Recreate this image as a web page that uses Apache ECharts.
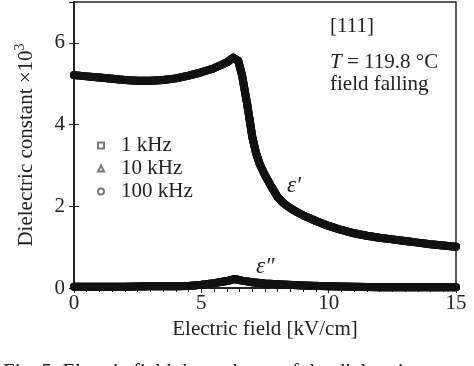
<!DOCTYPE html>
<html><head><meta charset="utf-8">
<script src="https://cdn.jsdelivr.net/npm/echarts@6/dist/echarts.min.js"></script>
<style>html,body{margin:0;padding:0;background:#fff}#c{width:474px;height:366px}</style>
</head><body><div id="c"></div>
<script>
// Electric field [kV/cm] for the real part curve
const fieldReal = [0, 0.5, 1, 1.5, 2, 2.5, 3, 3.5, 4, 4.5, 5, 5.5, 6, 6.25, 6.45, 6.6, 6.7, 6.8, 6.9, 7.0, 7.15, 7.3, 7.5, 7.75, 8, 8.25, 8.5, 8.75, 9, 9.5, 10, 10.5, 11, 11.5, 12, 12.5, 13, 13.5, 14, 14.5, 15];
// epsilon' (x10^3)
const epsReal = [5.21, 5.18, 5.15, 5.12, 5.09, 5.07, 5.07, 5.09, 5.13, 5.2, 5.28, 5.38, 5.52, 5.64, 5.56, 5.2, 4.85, 4.5, 4.1, 3.7, 3.3, 3.02, 2.76, 2.48, 2.22, 2.06, 1.95, 1.86, 1.78, 1.64, 1.52, 1.42, 1.34, 1.28, 1.23, 1.19, 1.15, 1.11, 1.07, 1.04, 1.01];
// Electric field for the imaginary part curve
const fieldImag = [0, 1, 2, 3, 4, 4.5, 5, 5.5, 6, 6.3, 6.6, 7, 7.5, 8, 9, 10, 11, 12, 13, 14, 15];
// epsilon'' (x10^3)
const epsImag = [0.03, 0.03, 0.03, 0.04, 0.04, 0.05, 0.08, 0.12, 0.17, 0.22, 0.18, 0.14, 0.11, 0.09, 0.06, 0.04, 0.03, 0.02, 0.02, 0.02, 0.02];
const frequencies = ['1 kHz', '10 kHz', '100 kHz'];
const freqSymbols = ['emptyRect', 'emptyTriangle', 'emptyCircle'];
const xTicks = [0, 5, 10, 15];
const yTicks = [0, 2, 4, 6];

const serif = '"Liberation Serif", "DejaVu Serif", serif';
const txt = '#222';

const pair = (xs, ys) => xs.map((x, i) => [x, ys[i]]);
const series = [];
frequencies.forEach((f, k) => {
  [pair(fieldReal, epsReal), pair(fieldImag, epsImag)].forEach((d, j) => {
    series.push({
      name: f + (j ? ' ε″' : ' ε′'), type: 'line', data: d, smooth: false,
      showSymbol: false,
      lineStyle: {color: '#111', width: 8, join: 'round', cap: 'round'},
      emphasis: {disabled: true}, silent: true, z: 3
    });
  });
  // legend marker series (no data of its own; the curves above carry the values)
  series.push({
    name: f, type: 'scatter', data: [], symbol: freqSymbols[k], symbolSize: 6,
    itemStyle: {color: '#555', borderColor: '#555', borderWidth: 1}
  });
});

const chart = echarts.init(document.getElementById('c'), null, {renderer: 'canvas'});
chart.setOption({
  animation: false,
  backgroundColor: '#fff',
  grid: {left: 74, right: 18, top: 2, bottom: 78, show: true, borderColor: '#222', borderWidth: 1.5},
  legend: {
    orient: 'vertical', left: 92, top: 130, itemWidth: 6, itemHeight: 6, itemGap: 2,
    data: frequencies,
    textStyle: {fontFamily: serif, fontSize: 21, color: txt, lineHeight: 21, padding: [0, 0, 0, 12]}
  },
  xAxis: [{
    type: 'value', min: xTicks[0], max: xTicks[xTicks.length - 1], interval: 5,
    position: 'bottom',
    name: 'Electric field [kV/cm]', nameLocation: 'middle', nameGap: 31,
    nameTextStyle: {fontFamily: serif, fontSize: 21, color: txt},
    axisLine: {lineStyle: {color: '#222', width: 1.5}},
    axisTick: {inside: true, length: 5, lineStyle: {color: '#222'}},
    minorTick: {show: false},
    axisLabel: {fontFamily: serif, fontSize: 21, color: txt, margin: 5,
      formatter: v => xTicks.includes(v) ? String(v) : ''},
    splitLine: {show: false}
  }, {
    type: 'value', min: 0, max: 15, interval: 5, position: 'top',
    axisLine: {lineStyle: {color: '#222', width: 1.5}},
    axisTick: {inside: true, length: 5, lineStyle: {color: '#222'}},
    minorTick: {show: true, splitNumber: 10, length: 4, lineStyle: {color: '#222'}},
    axisLabel: {show: false}, splitLine: {show: false}
  }],
  yAxis: [{
    type: 'value', min: 0, max: 7, interval: 2, position: 'left',
    name: '{t|Dielectric constant ×10}{s|3}', nameLocation: 'middle', nameGap: 35, nameRotate: 90,
    nameTextStyle: {rich: {
      t: {fontFamily: serif, fontSize: 21, color: txt},
      s: {fontFamily: serif, fontSize: 14, color: txt, verticalAlign: 'top', padding: [0, 0, 12, 0]}
    }},
    axisLine: {lineStyle: {color: '#222', width: 1.5}},
    axisTick: {inside: true, length: 5, lineStyle: {color: '#222'}},
    axisLabel: {fontFamily: serif, fontSize: 21, color: txt, margin: 9, showMaxLabel: false,
      formatter: v => yTicks.includes(v) ? String(v) : ''},
    splitLine: {show: false}
  }, {
    type: 'value', min: 0, max: 7, interval: 2, position: 'right',
    axisLine: {lineStyle: {color: '#222', width: 1.5}},
    axisTick: {inside: true, length: 5, lineStyle: {color: '#222'}},
    axisLabel: {show: false}, splitLine: {show: false}
  }],
  graphic: [
    {type: 'text', left: 330, top: 16, style: {text: '[111]', font: '21px ' + serif, fill: txt}},
    {type: 'text', left: 330, top: 52, style: {
      text: '{i|T} = 119.8 °C', fill: txt,
      rich: {i: {fontFamily: serif, fontSize: 21, fontStyle: 'italic', fill: txt}},
      font: '21px ' + serif}},
    {type: 'text', left: 330, top: 74, style: {text: 'field falling', font: '21px ' + serif, fill: txt}},
    {type: 'text', left: 287, top: 174, style: {text: 'ε′', font: 'italic 23px ' + serif, fill: txt}},
    {type: 'text', left: 256, top: 255, style: {text: 'ε″', font: 'italic 23px ' + serif, fill: txt}},
    {type: 'text', left: 3, top: 362, style: {text: 'Fig. 5. Electric field dependence of the dielectric constant', font: '21px ' + serif, fill: '#222'}}
  ],
  series: series
});
</script></body></html>
